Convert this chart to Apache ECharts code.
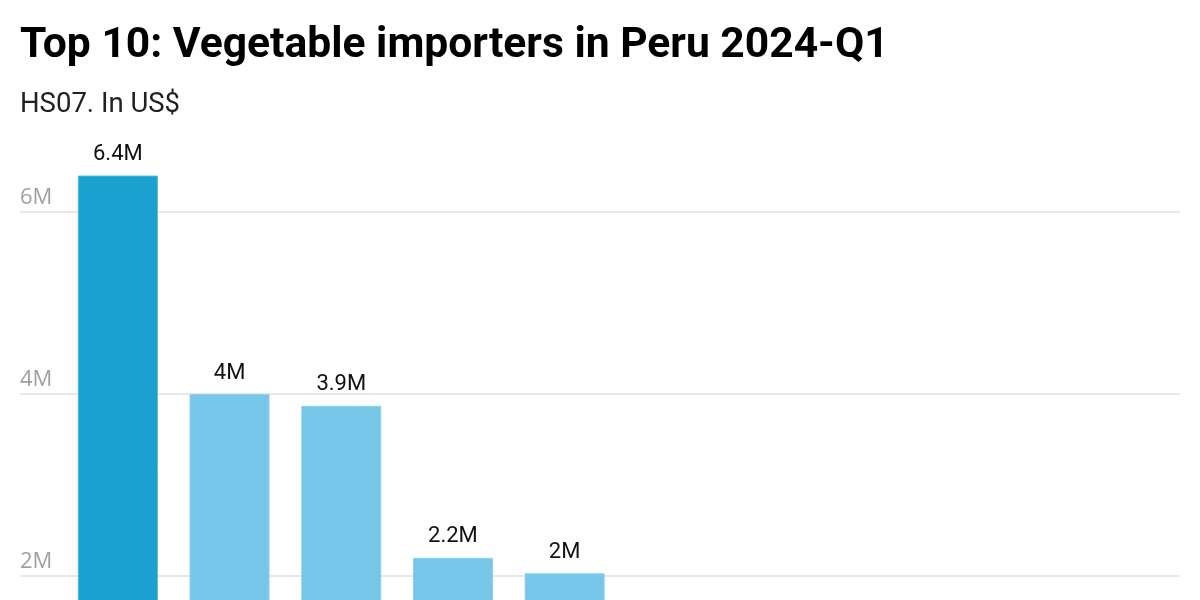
<!DOCTYPE html>
<html>
<head>
<meta charset="utf-8">
<script src="https://cdn.jsdelivr.net/npm/echarts@6/dist/echarts.min.js"></script>
<style>
  html, body { margin: 0; padding: 0; background: #fff; overflow: hidden; }
  /* the chart is taller than the window, the picture is a crop of its top */
  #chart { width: 1200px; height: 820px; }
</style>
</head>
<body>
<div id="chart"></div>
<script>
// importers (names sit below the visible crop)
const categories = ['Importer 1', 'Importer 2', 'Importer 3', 'Importer 4', 'Importer 5',
  'Importer 6', 'Importer 7', 'Importer 8', 'Importer 9', 'Importer 10'];
const values = [6400000, 4000000, 3870000, 2200000, 2030000, 1300000, 1200000, 1100000, 1000000, 900000];
const yTicks = [0, 2000000, 4000000, 6000000];

const chart = echarts.init(document.getElementById('chart'));

function fmtM(v) {
  if (v === 0) return '0';
  return +(v / 1e6).toFixed(1) + 'M';
}

const gridTop = 212;
const gridBottom = 820 - 758;

const option = {
  backgroundColor: '#fff',
  animation: false,
  title: [{
    text: 'Top 10: Vegetable importers in Peru 2024-Q1',
    left: 20, top: 25, padding: 0,
    textStyle: { fontFamily: 'Roboto', fontWeight: 'bold', fontSize: 42.6, color: '#000' }
  }, {
    text: 'HS07. In US$',
    left: 20, top: 91, padding: 0,
    textStyle: { fontFamily: 'Roboto', fontWeight: 'normal', fontSize: 27.5, color: '#222' }
  }],
  grid: [
    { left: 20, right: 20, top: gridTop, bottom: gridBottom },
    { left: 62, right: 21, top: gridTop, bottom: gridBottom }
  ],
  xAxis: [
    { gridIndex: 0, type: 'category', data: categories, show: false },
    {
      gridIndex: 1, type: 'category', data: categories,
      axisLine: { show: false }, axisTick: { show: false },
      axisLabel: { fontFamily: 'Roboto', fontSize: 18, color: '#333' }
    }
  ],
  yAxis: [{
    gridIndex: 0, type: 'value', min: 0, max: 6000000, interval: 2000000,
    axisLine: { show: false }, axisTick: { show: false },
    splitLine: { lineStyle: { color: '#e0e0e0', width: 1.5 } },
    axisLabel: {
      inside: true, margin: 0, align: 'left', verticalAlign: 'bottom',
      padding: [0, 0, 3, 0],
      fontFamily: 'Open Sans', fontSize: 22, color: '#a0a0a0',
      formatter: v => yTicks.includes(v) ? fmtM(v) : ''
    }
  }, {
    gridIndex: 1, type: 'value', min: 0, max: 6000000, interval: 2000000,
    show: false, splitLine: { show: false }
  }],
  series: [{
    type: 'bar',
    xAxisIndex: 1, yAxisIndex: 1,
    clip: false,
    barWidth: 80,
    data: values.map((v, i) => ({
      value: v,
      itemStyle: {
        color: i === 0 ? '#1aa1cf' : '#76c6ea',
        borderColor: i === 0 ? '#4db6dc' : '#8fd0ee',
        borderWidth: 1
      }
    })),
    label: {
      show: true, position: 'top', distance: 10,
      fontFamily: 'Roboto', fontSize: 22, color: '#111',
      formatter: p => fmtM(p.value)
    }
  }]
};

chart.setOption(option);
</script>
</body>
</html>
